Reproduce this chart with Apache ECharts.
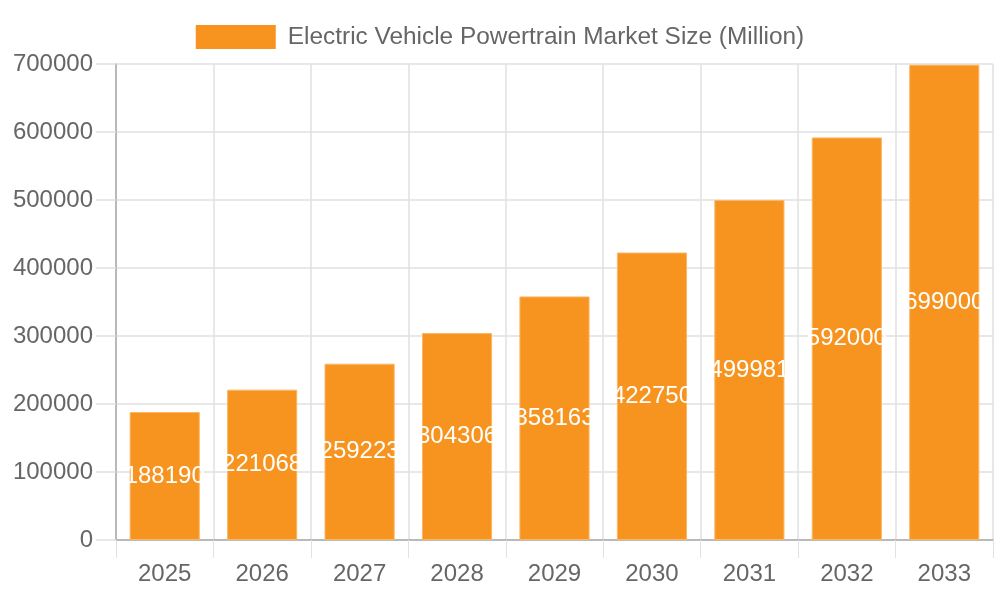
<!DOCTYPE html>
<html lang="en">
<head>
    <meta charset="UTF-8">
    <title>EV powertrain market size</title>
    <script src="https://cdn.jsdelivr.net/npm/echarts@6/dist/echarts.min.js"></script>
    <style>
        body { margin: 0; }
        #main { width: 1000px; height: 600px; }
    </style>
</head>
<body>
<div id="main"></div>
<script>
    var years = ['2025', '2026', '2027', '2028', '2029', '2030', '2031', '2032', '2033'];
    var marketSize = [188190, 221068, 259223, 304306, 358163, 422750, 499981, 592000, 699000];
    var seriesName = 'Electric Vehicle Powertrain Market Size (Million)';

    var font = 'Liberation Sans, Arial, sans-serif';
    var gridColor = '#e1e1e1';
    var axisColor = '#aaaaaa';

    var option = {
        backgroundColor: '#ffffff',
        animation: false,
        textStyle: { fontFamily: font },
        legend: {
            top: 20,
            left: 'center',
            icon: 'rect',
            itemWidth: 80,
            itemHeight: 24,
            itemGap: 12,
            data: [seriesName],
            itemStyle: { borderWidth: 0 },
            textStyle: { color: '#666666', fontSize: 24.4, fontFamily: font, padding: [0, 0, 0, 7] }
        },
        grid: {
            left: 116,
            right: 7,
            top: 64,
            bottom: 60,
            containLabel: false
        },
        xAxis: {
            type: 'category',
            data: years,
            axisLine: { lineStyle: { color: axisColor, width: 1.5 } },
            axisTick: { show: true, length: 18, lineStyle: { color: gridColor } },
            splitLine: { show: true, lineStyle: { color: gridColor, width: 1.5 } },
            axisLabel: { color: '#666666', fontSize: 24, margin: 22, fontFamily: font }
        },
        yAxis: {
            type: 'value',
            min: 0,
            max: 700000,
            interval: 100000,
            axisLine: { show: true, lineStyle: { color: axisColor, width: 1.5 } },
            axisTick: { show: true, length: 20, lineStyle: { color: gridColor, width: 1.5 } },
            splitLine: { show: true, lineStyle: { color: gridColor, width: 1.5 } },
            axisLabel: {
                color: '#666666',
                fontSize: 24,
                margin: 23,
                fontFamily: font,
                formatter: function (v) { return String(v); }
            }
        },
        series: [{
            name: seriesName,
            type: 'bar',
            data: marketSize,
            barCategoryGap: '28%',
            itemStyle: {
                color: '#f7941f',
                borderColor: '#fab766',
                borderWidth: 1
            },
            label: {
                show: true,
                position: 'inside',
                color: '#ffffff',
                fontSize: 24,
                fontFamily: font
            }
        }]
    };

    var myChart = echarts.init(document.getElementById('main'));
    myChart.setOption(option);
</script>
</body>
</html>
